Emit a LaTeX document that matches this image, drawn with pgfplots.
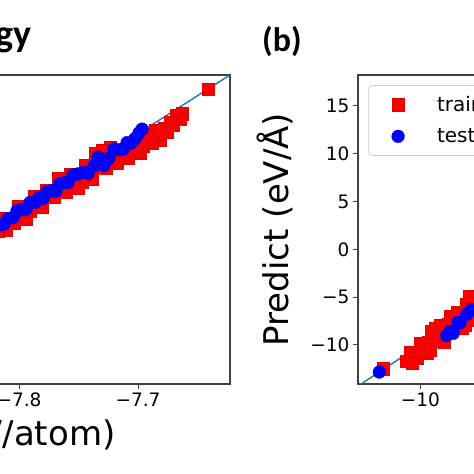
\documentclass[border=0pt]{standalone}
\usepackage{fontspec}
\setmainfont{DejaVu Sans}
\newfontfamily\titlefont{Carlito}
\usepackage{pgfplots}
\pgfplotsset{compat=1.18}

\definecolor{lineblue}{HTML}{1F77B4}
\definecolor{framegray}{HTML}{404040}

\pgfplotsset{
  panel/.style={
    scale only axis, width=330pt, height=309pt,
    axis line style={framegray, line width=1.1pt},
    tick align=outside, tick pos=left,
    major tick length=5pt,
    every tick/.style={framegray, line width=1pt},
    tick label style={font=\fontsize{18.5}{20}\selectfont},
    label style={font=\fontsize{34}{38}\selectfont},
  },
  train/.style={only marks, mark=square*, mark size=6.3pt,
    mark options={fill=red, draw=red!90!black, line width=0.3pt}},
  test/.style={only marks, mark=*, mark size=6.4pt,
    mark options={fill=blue, draw=blue!90!black, line width=0.3pt}},
}

\begin{document}
\begin{tikzpicture}[x=1pt,y=1pt]
\useasboundingbox (0,0) rectangle (474,474);
\clip (0,0) rectangle (474,474);

% (a) per-atom energy
\begin{axis}[panel, at={(-100pt,90pt)}, anchor=south west,
  xmin=-7.9, xmax=-7.6227, ymin=-8.0298, ymax=-7.6227,
  xtick={-7.8,-7.7}, xticklabels={−7.8,−7.7},
  ytick={-8.0,-7.9,-7.8,-7.7}, yticklabels={−8.0,−7.9,−7.8,−7.7},
  xlabel={DFT (eV/atom)},
  xlabel style={at={(axis description cs:0.6636,-0.1997)}, anchor=base east},
]
\addplot[train] coordinates {
(-7.6412,-7.6412) (-7.6630,-7.6735) (-7.6647,-7.6805) (-7.6681,-7.6760)
(-7.6706,-7.6890) (-7.6731,-7.6850) (-7.6756,-7.6980) (-7.6782,-7.6927)
(-7.6815,-7.7079) (-7.6832,-7.7003) (-7.6857,-7.6962) (-7.6882,-7.7119)
(-7.6908,-7.7066) (-7.6933,-7.7012) (-7.6958,-7.7156) (-7.6983,-7.7247)
(-7.7017,-7.7228) (-7.7050,-7.7182) (-7.7084,-7.7321) (-7.7118,-7.7276)
(-7.7151,-7.7230) (-7.7176,-7.7387) (-7.7210,-7.7342) (-7.7235,-7.7182)
(-7.7269,-7.7453) (-7.7303,-7.7224) (-7.7336,-7.7441) (-7.7361,-7.7256)
(-7.7387,-7.7598) (-7.7420,-7.7473) (-7.7445,-7.7419) (-7.7471,-7.7629)
(-7.7504,-7.7715) (-7.7538,-7.7617) (-7.7571,-7.7531) (-7.7605,-7.7763)
(-7.7639,-7.7692) (-7.7672,-7.7593) (-7.7706,-7.7838) (-7.7739,-7.7765)
(-7.7773,-7.7747) (-7.7807,-7.7965) (-7.7840,-7.7893) (-7.7874,-7.7821)
(-7.7908,-7.8013) (-7.7941,-7.8125) (-7.7975,-7.8001) (-7.8008,-7.7955)
(-7.8042,-7.8174) (-7.8076,-7.8129) (-7.8109,-7.8267) (-7.8143,-7.8117)
(-7.8176,-7.8281) (-7.8210,-7.8236)
};
\addplot[test] coordinates {
(-7.6966,-7.6940) (-7.6992,-7.6992) (-7.7025,-7.7065) (-7.7059,-7.7125)
(-7.7092,-7.7118) (-7.7126,-7.7205) (-7.7160,-7.7213) (-7.7202,-7.7202)
(-7.7244,-7.7323) (-7.7286,-7.7418) (-7.7311,-7.7337) (-7.7336,-7.7310)
(-7.7370,-7.7423) (-7.7420,-7.7525) (-7.7454,-7.7507) (-7.7504,-7.7530)
(-7.7546,-7.7546) (-7.7588,-7.7641) (-7.7622,-7.7648) (-7.7655,-7.7655)
(-7.7689,-7.7755) (-7.7723,-7.7749) (-7.7765,-7.7765) (-7.7798,-7.7851)
(-7.7832,-7.7845) (-7.7866,-7.7906) (-7.7908,-7.7908) (-7.7941,-7.7994)
(-7.7975,-7.8001) (-7.8017,-7.8017) (-7.8050,-7.8103) (-7.8092,-7.8118)
(-7.8126,-7.8192) (-7.8160,-7.8200) (-7.8200,-7.8226)
};
\addplot[lineblue, line width=1.4pt] coordinates {(-7.9,-7.9) (-7.6227,-7.6227)};
\end{axis}

% (b) forces
\begin{axis}[panel, at={(358pt,90pt)}, anchor=south west,
  xmin=-14.3, xmax=8.46, ymin=-14.08, ymax=18.24,
  xtick={-10,-5,0,5}, xticklabels={−10,−5,0,5},
  ytick={-10,-5,0,5,10,15}, yticklabels={−10,−5,0,5,10,15},
  ylabel={Predict (eV/Å)},
  ylabel style={at={(axis description cs:-0.2121,0.5)}, anchor=base},
  legend image code/.code={
    \path[draw=none, fill=none] (-21.4pt,-15.85pt) rectangle (39pt,15.85pt);
    \draw[#1] plot coordinates {(0pt,0pt)};},
  legend cell align=left,
  legend style={at={(axis description cs:0.0312,0.9676)}, anchor=north west,
    draw=black!20, line width=0.8pt, rounded corners=4pt, fill=white,
    inner xsep=8pt, inner ysep=3.4pt, row sep=0pt, column sep=0pt,
    nodes={inner sep=0pt}, font=\fontsize{20}{22}\selectfont},
]
\addplot[train] coordinates {
(-12.555,-12.45) (-10.94,-11.67) (-10.71,-10.81) (-10.25,-11.36)
(-10.576,-11.83) (-10.024,-9.815) (-9.541,-10.80) (-9.059,-9.477)
(-9.91,-10.64) (-9.68,-9.99) (-9.47,-9.78) (-9.22,-8.59) (-8.99,-8.26)
(-8.645,-7.91) (-9.33,-10.48) (-8.76,-9.60) (-8.369,-9.624) (-8.093,-7.884)
(-7.955,-7.01) (-7.73,-8.04) (-7.472,-6.635) (-7.128,-8.174)
(-7.27,-6.85) (-6.80,-5.75) (-6.714,-6.296) (-6.58,-4.91) (-6.92,-7.86)
(-6.46,-7.30) (-6.30,-5.045) (-6.30,-7.346)
(-6.02,-5.50) (-5.54,-6.17) (-5.06,-4.50)
};
\addlegendentry{train}
\addplot[test] coordinates {
(-12.83,-12.83) (-8.18,-9.02) (-7.955,-8.58) (-7.73,-8.78) (-7.403,-7.61)
(-7.27,-7.69) (-6.80,-6.80) (-6.46,-6.30) (-6.30,-6.30) (-6.02,-6.23)
(-5.47,-5.16)
};
\addlegendentry{test}
\addplot[lineblue, line width=1.4pt, forget plot] coordinates {(-14.3,-14.3) (18.24,18.24)};
\end{axis}

\node[anchor=base east, inner sep=0pt,
  font=\titlefont\bfseries\fontsize{38}{42}\selectfont] at (32,427) {(a) Energy};
\node[anchor=base west, inner sep=0pt,
  font=\titlefont\bfseries\fontsize{34}{38}\selectfont] at (262,422) {(b)};
\end{tikzpicture}
\end{document}
